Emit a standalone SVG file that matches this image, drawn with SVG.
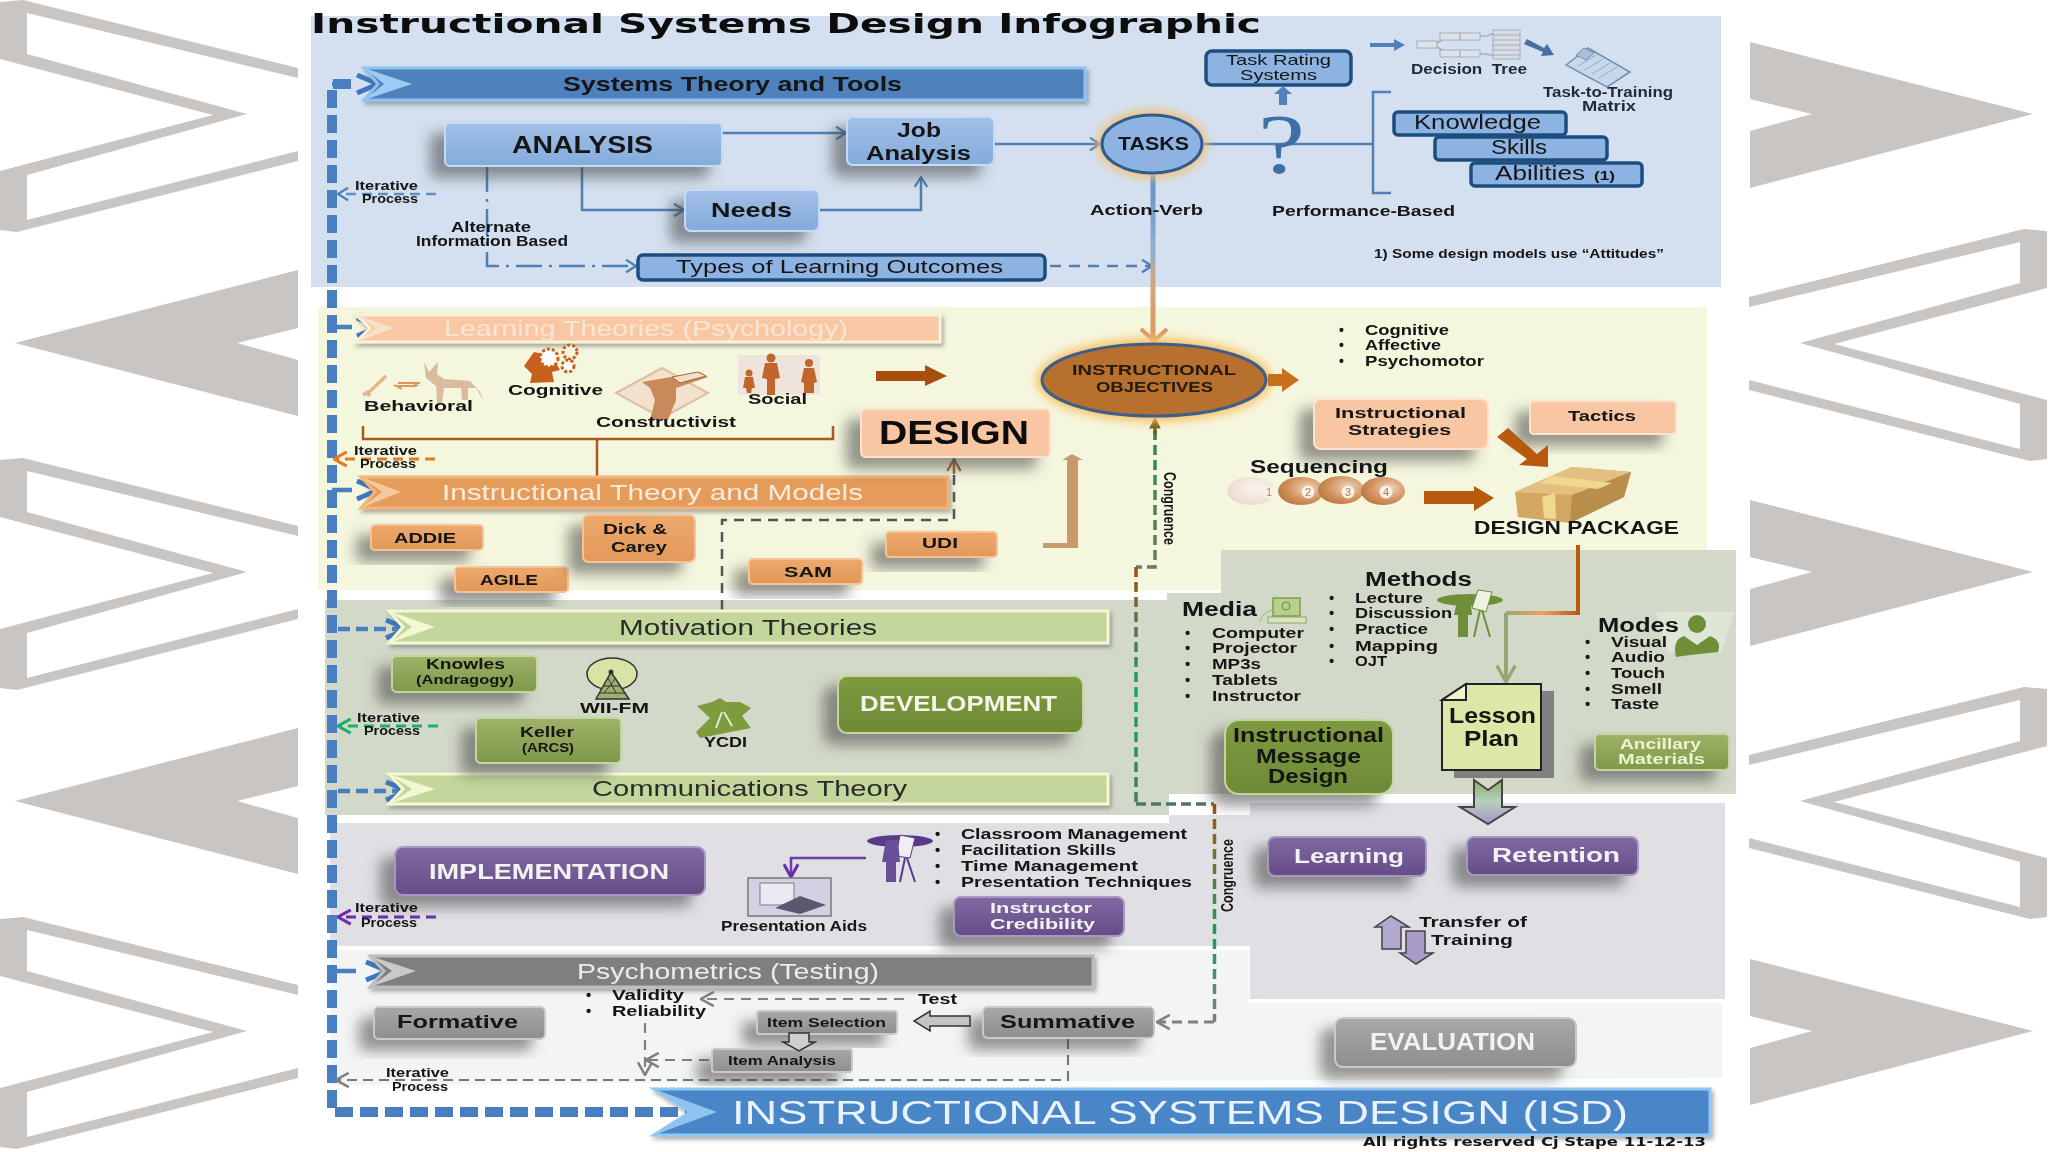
<svg xmlns="http://www.w3.org/2000/svg" width="2048" height="1152" viewBox="0 0 2048 1152">
<style>
text{font-family:"Liberation Sans","Open Sans",sans-serif;fill:#141414;font-weight:700}
.n{font-weight:400}
.s{font-weight:700}
.ws{fill:#f2f2f2}
.box{filter:url(#ds);stroke-width:2}
.bl{fill:url(#gBlue);stroke:#c3dcf5}
.ou{fill:#8db3e2;stroke:#1f4e80;stroke-width:3.5}
.pe{fill:#f9c6a3;stroke:#fde3cf}
.og{fill:url(#gOrange);stroke:#f5c397}
.lg{fill:url(#gGreen);stroke:#c3d69b}
.dg{fill:url(#gDark);stroke:#c3d69b}
.pu{fill:url(#gPurple);stroke:#a897c0}
.gy{fill:url(#gGray);stroke:#c9c9c9}
.ban{filter:url(#bs);stroke-width:3}
.deco{fill:#c8c5c3}
.c{fill:none}
.bk{stroke:#4f7fb5;stroke-width:2.5}
.mainDash{stroke:#4a7fc1;stroke-width:10;stroke-dasharray:18 7}
.sideDash{stroke:#4a7fc1;stroke-width:4.5;stroke-dasharray:12 6}
.sideSolid{stroke:#4a7fc1;stroke-width:4.5}
.chev{stroke:#3f76c0;stroke-width:5}
</style>
<defs>
<filter id="soft" x="0" y="0" width="100%" height="100%"><feGaussianBlur stdDeviation="0.55"/></filter>
<filter id="ds" x="-30%" y="-40%" width="160%" height="200%"><feDropShadow dx="-14" dy="11" stdDeviation="7" flood-color="#444" flood-opacity=".55"/></filter>
<filter id="bs" x="-5%" y="-30%" width="110%" height="170%"><feDropShadow dx="2" dy="3" stdDeviation="2" flood-color="#555" flood-opacity=".5"/></filter>
<filter id="glow" x="-30%" y="-40%" width="160%" height="180%"><feGaussianBlur stdDeviation="5"/></filter>
<linearGradient id="gBlue" x1="0" y1="0" x2="0" y2="1"><stop offset="0" stop-color="#a2bfe6"/><stop offset="1" stop-color="#84abdc"/></linearGradient>
<linearGradient id="gOrange" x1="0" y1="0" x2="0" y2="1"><stop offset="0" stop-color="#eda86c"/><stop offset="1" stop-color="#e2995a"/></linearGradient>
<linearGradient id="gGreen" x1="0" y1="0" x2="0" y2="1"><stop offset="0" stop-color="#9db268"/><stop offset="1" stop-color="#7f984a"/></linearGradient>
<linearGradient id="gDark" x1="0" y1="0" x2="0" y2="1"><stop offset="0" stop-color="#7d9a40"/><stop offset="1" stop-color="#6f8a37"/></linearGradient>
<linearGradient id="gPurple" x1="0" y1="0" x2="0" y2="1"><stop offset="0" stop-color="#806aa2"/><stop offset="1" stop-color="#664c88"/></linearGradient>
<linearGradient id="gGray" x1="0" y1="0" x2="0" y2="1"><stop offset="0" stop-color="#a8a8a8"/><stop offset="1" stop-color="#8e8e8e"/></linearGradient>
<linearGradient id="gTasks" gradientUnits="userSpaceOnUse" x1="0" y1="174" x2="0" y2="340"><stop offset="0" stop-color="#5f8fc4"/><stop offset=".45" stop-color="#8fb0d2"/><stop offset=".65" stop-color="#d3a77f"/><stop offset="1" stop-color="#d9975f"/></linearGradient>
<linearGradient id="gPack" gradientUnits="userSpaceOnUse" x1="1578" y1="0" x2="1506" y2="0"><stop offset="0" stop-color="#b85a10"/><stop offset=".5" stop-color="#f0a060"/><stop offset="1" stop-color="#9aa873"/></linearGradient>
<linearGradient id="gCong1" gradientUnits="userSpaceOnUse" x1="0" y1="418" x2="0" y2="570"><stop offset="0" stop-color="#6e5a20"/><stop offset=".2" stop-color="#2e8b57"/><stop offset="1" stop-color="#6e7a60"/></linearGradient>
<linearGradient id="gCong2" gradientUnits="userSpaceOnUse" x1="0" y1="567" x2="0" y2="804"><stop offset="0" stop-color="#a04f18"/><stop offset=".2" stop-color="#6e6e40"/><stop offset=".55" stop-color="#12a868"/><stop offset="1" stop-color="#4a7a5a"/></linearGradient>
<linearGradient id="gCong3" gradientUnits="userSpaceOnUse" x1="0" y1="804" x2="0" y2="1022"><stop offset="0" stop-color="#a04f18"/><stop offset=".2" stop-color="#7a7030"/><stop offset=".6" stop-color="#1f9a5a"/><stop offset="1" stop-color="#808080"/></linearGradient>
<linearGradient id="gDown" x1="0" y1="0" x2="0" y2="1"><stop offset="0" stop-color="#8fae6a"/><stop offset=".5" stop-color="#b5cfc0"/><stop offset="1" stop-color="#a894c4"/></linearGradient>
<radialGradient id="gBall" cx=".65" cy=".4" r=".7"><stop offset="0" stop-color="#f0d4bb"/><stop offset=".6" stop-color="#d2935f"/><stop offset="1" stop-color="#b97640"/></radialGradient>
<radialGradient id="gBallP" cx=".6" cy=".4" r=".7"><stop offset="0" stop-color="#fbf6f0"/><stop offset="1" stop-color="#e8d8c8"/></radialGradient>
<marker id="aBlue" viewBox="0 0 12 12" refX="11" refY="6" markerWidth="15" markerHeight="15" orient="auto" markerUnits="userSpaceOnUse"><path d="M3,1L11,6L3,11" fill="none" stroke="#4f7fb5" stroke-width="1.8"/></marker>
<marker id="aOrange" viewBox="0 0 12 12" refX="11" refY="6" markerWidth="17" markerHeight="17" orient="auto" markerUnits="userSpaceOnUse"><path d="M2,1L11,6L2,11" fill="none" stroke="#e07b20" stroke-width="2.2"/></marker>
<marker id="aDark" viewBox="0 0 12 12" refX="11" refY="6" markerWidth="16" markerHeight="16" orient="auto" markerUnits="userSpaceOnUse"><path d="M2,1L11,6L2,11" fill="none" stroke="#a06a30" stroke-width="1.8"/></marker>
<marker id="aGray" viewBox="0 0 12 12" refX="11" refY="6" markerWidth="17" markerHeight="17" orient="auto" markerUnits="userSpaceOnUse"><path d="M2,1L11,6L2,11" fill="none" stroke="#808080" stroke-width="1.8"/></marker>
<marker id="aGreen" viewBox="0 0 12 12" refX="11" refY="6" markerWidth="17" markerHeight="17" orient="auto" markerUnits="userSpaceOnUse"><path d="M2,1L11,6L2,11" fill="none" stroke="#1fae6a" stroke-width="2.2"/></marker>
<marker id="aPurple" viewBox="0 0 12 12" refX="11" refY="6" markerWidth="17" markerHeight="17" orient="auto" markerUnits="userSpaceOnUse"><path d="M2,1L11,6L2,11" fill="none" stroke="#6b2fa8" stroke-width="2.2"/></marker>
<marker id="aOlive" viewBox="0 0 12 12" refX="11" refY="6" markerWidth="22" markerHeight="22" orient="auto" markerUnits="userSpaceOnUse"><path d="M2,1L11,6L2,11" fill="none" stroke="#95a574" stroke-width="1.8"/></marker>
<marker id="aHead" viewBox="0 0 12 12" refX="10" refY="6" markerWidth="14" markerHeight="14" orient="auto" markerUnits="userSpaceOnUse"><path d="M1,1L11,6L1,11z" fill="#6e5a20"/></marker>
<polygon id="hollow" points="0,2 23,0 298,68 298,78 27,13 27,54 247,114 27,175 27,220 298,151 298,161 17,232 0,230 0,171 213,115 0,59"/>
<polygon id="filledL" points="15,343 298,270 298,328 237,343 298,360 298,416"/>
<polygon id="filledR" points="1750,42 2033,114 1750,188 1750,131 1812,114 1750,99"/>
</defs>
<rect width="2048" height="1152" fill="#fff"/>
<g filter="url(#soft)">
<g id="decoration" class="deco">
<use href="#hollow"/><use href="#hollow" y="458"/><use href="#hollow" y="917"/>
<use href="#filledL"/><use href="#filledL" y="458"/>
<use href="#filledR"/><use href="#filledR" y="458"/><use href="#filledR" y="917"/>
<use href="#hollow" transform="translate(2047,229) scale(-1,1)"/><use href="#hollow" transform="translate(2047,687) scale(-1,1)"/>
</g>

<g id="panels">
<rect x="311" y="16" width="1410" height="271" fill="#d4e0ef"/>
<rect x="318" y="307" width="1389" height="283" fill="#f5f6de"/>
<polygon points="325,600 1167,600 1167,593 1221,593 1221,550 1736,550 1736,794 1169,794 1169,815 325,815" fill="#d3d9c9"/>
<polygon points="330,823 1169,823 1169,815 1250,815 1250,803 1725,803 1725,999 1250,999 1250,946 330,946" fill="#e0dfe4"/>
<polygon points="330,950 1249,950 1249,1003 1722,1003 1722,1078 330,1085" fill="#f3f4f4"/>
</g>

<text id="title" x="311" y="33" font-size="26" textLength="950" lengthAdjust="spacingAndGlyphs" style="font-family:'DejaVu Sans',sans-serif;fill:#0a0a0a">Instructional Systems Design Infographic</text>

<g id="connectors" class="c">
<path class="mainDash" d="M351,84H332V1112H700"/>
<path class="sideSolid" d="M332,84H350M332,327H352M332,490H352M332,971H356"/>
<path class="sideDash" d="M338,629H400M338,791H400"/>
<polyline class="chev" points="357,75 378,84 357,93"/>
<polyline class="chev" points="357,318 378,327 357,336"/>
<polyline class="chev" points="357,481 378,490 357,499"/>
<polyline class="chev" points="386,620 407,629 386,638"/>
<polyline class="chev" points="386,782 407,791 386,800"/>
<polyline class="chev" points="366,962 388,971 366,980"/>

<path class="bk" marker-end="url(#aBlue)" d="M722,133H846"/>
<path class="bk" marker-end="url(#aBlue)" d="M582,166V210H684"/>
<path class="bk" marker-end="url(#aBlue)" d="M819,210H921V177"/>
<path class="bk" marker-end="url(#aBlue)" d="M994,144H1100"/>
<path class="bk" d="M1202,144H1373M1391,92H1373V193H1391"/>
<path stroke="#4f7fb5" stroke-width="2.5" stroke-dasharray="26 7 3 7" marker-end="url(#aBlue)" d="M487,166V266H636"/>
<path stroke="#4f7fb5" stroke-width="2.5" stroke-dasharray="11 8" marker-end="url(#aBlue)" d="M1050,266H1152"/>
<path stroke="url(#gTasks)" stroke-width="5" d="M1153,174V341"/>
<polyline points="1141,329 1154,341 1167,329" stroke="#d9975f" stroke-width="4"/>

<path stroke="#a85a20" stroke-width="2.5" d="M363,426V439H833V426M597,439V477"/>
<path stroke="#555" stroke-width="2.5" stroke-dasharray="10 7" d="M722,610V520H954V470"/>
<path stroke="#a06a30" stroke-width="2.5" marker-end="url(#aDark)" d="M954,474V459"/>

<path stroke="#5f8fc4" stroke-width="2.5" stroke-dasharray="10 6" marker-end="url(#aBlue)" d="M436,194H338"/>
<path stroke="#e07b20" stroke-width="3" stroke-dasharray="10 6" marker-end="url(#aOrange)" d="M435,459H334"/>
<path stroke="#1fae6a" stroke-width="3" stroke-dasharray="10 6" marker-end="url(#aGreen)" d="M438,726H338"/>
<path stroke="#6b2fa8" stroke-width="3" stroke-dasharray="10 6" marker-end="url(#aPurple)" d="M436,917H338"/>

<path stroke="url(#gCong1)" stroke-width="3.5" stroke-dasharray="10 5" d="M1155,430V567H1136"/>
<path stroke="#6e5a20" stroke-width="3" marker-end="url(#aHead)" d="M1155,434V418"/>
<path stroke="url(#gCong2)" stroke-width="3.5" stroke-dasharray="10 5" d="M1136,567V804"/>
<path stroke="#4a7a5a" stroke-width="3.5" stroke-dasharray="10 5" d="M1136,804H1214"/>
<path stroke="url(#gCong3)" stroke-width="3.5" stroke-dasharray="10 5" d="M1214.500,804V1022"/>
<path stroke="#808080" stroke-width="3" stroke-dasharray="10 6" marker-end="url(#aGray)" d="M1214,1022H1157"/>

<path stroke="#b85a10" stroke-width="4" d="M1578,545V613"/>
<path stroke="url(#gPack)" stroke-width="4" d="M1580,613H1506"/>
<path stroke="#95a574" stroke-width="4" marker-end="url(#aOlive)" d="M1506,613V682"/>

<path stroke="#808080" stroke-width="2.200" stroke-dasharray="10 7" marker-end="url(#aGray)" d="M904,999H701"/>
<path stroke="#808080" stroke-width="2.200" stroke-dasharray="10 7" marker-end="url(#aGray)" d="M645,1023V1075"/>
<path stroke="#808080" stroke-width="2.200" stroke-dasharray="10 7" marker-end="url(#aGray)" d="M709,1060H646"/>
<path stroke="#777" stroke-width="2.200" stroke-dasharray="10 6" marker-end="url(#aGray)" d="M1068,1039V1080H336"/>
<path stroke="#6b3fa0" stroke-width="2.500" marker-end="url(#aPurple)" d="M866,858H791V877"/>
</g>

<g id="banner-systems"><polygon class="ban" fill="#4f81bd" stroke="#8dc3f2" points="364,68 1085,68 1085,100 364,100 378,84"/><polygon fill="#9ccbf3" points="364,68 412,84 364,100 384,84"/><text x="563" y="91" font-size="21" textLength="339" lengthAdjust="spacingAndGlyphs">Systems Theory and Tools</text></g>
<g id="banner-learning"><polygon class="ban" fill="#f9c7a4" stroke="#f7f2d8" points="356,315 940,315 940,342 356,342 370,328"/><polygon fill="#f6e2c8" points="356,315 394,328 356,342 376,328"/><text class="n" x="444" y="336" font-size="22" textLength="404" lengthAdjust="spacingAndGlyphs" style="fill:#f8e6d2">Learning Theories (Psychology)</text></g>
<g id="banner-models"><polygon class="ban" fill="#e59b5a" stroke="#f0b47c" points="361,477 948,477 948,508 361,508 375,492"/><polygon fill="#f3c99e" points="361,477 401,492 361,508 382,492"/><text class="n" x="442" y="500" font-size="22" textLength="421" lengthAdjust="spacingAndGlyphs" style="fill:#f9ecdc">Instructional Theory and Models</text></g>
<g id="banner-motivation"><polygon class="ban" fill="#c3d69b" stroke="#f3f8d2" points="389,611 1108,611 1108,643 389,643 403,627"/><polygon fill="#f3f8d2" points="389,611 435,627 389,643 412,627"/><text class="n" x="619" y="635" font-size="22" textLength="258" lengthAdjust="spacingAndGlyphs" style="fill:#2a2a2a">Motivation Theories</text></g>
<g id="banner-comm"><polygon class="ban" fill="#c3d69b" stroke="#f3f8d2" points="389,774 1108,774 1108,804 389,804 403,789"/><polygon fill="#f3f8d2" points="389,774 435,789 389,804 412,789"/><text class="n" x="592" y="796" font-size="22" textLength="315" lengthAdjust="spacingAndGlyphs" style="fill:#2a2a2a">Communications Theory</text></g>
<g id="banner-psych"><polygon class="ban" fill="#7f7f7f" stroke="#bdbdbd" points="370,956 1093,956 1093,987 370,987 384,971"/><polygon fill="#c9c9c9" points="370,956 416,971 370,987 392,971"/><text class="n" x="577" y="979" font-size="22" textLength="302" lengthAdjust="spacingAndGlyphs" style="fill:#ececec">Psychometrics (Testing)</text></g>
<g id="banner-isd"><polygon class="ban" fill="#4a86c8" stroke="#8fc8f4" points="654,1089 1710,1089 1710,1135 654,1135 690,1112"/><polygon fill="#8fc4ee" points="654,1089 717,1112 654,1135 690,1112"/><text class="n" x="732" y="1124" font-size="33" textLength="896" lengthAdjust="spacingAndGlyphs" style="fill:#eaf3fb">INSTRUCTIONAL SYSTEMS DESIGN (ISD)</text></g>

<g id="analysis"><rect class="box bl" x="445" y="123" width="277" height="43" rx="5"/><text x="512" y="153" font-size="24" textLength="141" lengthAdjust="spacingAndGlyphs">ANALYSIS</text></g>
<g id="job-analysis"><rect class="box bl" x="847" y="117" width="147" height="48" rx="6"/><text x="897" y="137" font-size="20" textLength="44" lengthAdjust="spacingAndGlyphs">Job</text><text x="866" y="160" font-size="20" textLength="105" lengthAdjust="spacingAndGlyphs">Analysis</text></g>
<g id="needs"><rect class="box bl" x="685" y="190" width="134" height="41" rx="6"/><text x="711" y="217" font-size="21" textLength="81" lengthAdjust="spacingAndGlyphs">Needs</text></g>
<g id="types"><rect class="ou" x="638" y="255" width="407" height="25" rx="5"/><text class="n" x="676" y="273" font-size="19" textLength="327" lengthAdjust="spacingAndGlyphs">Types of Learning Outcomes</text></g>
<g id="task-rating"><rect class="ou" x="1206" y="51" width="145" height="34" rx="6"/><text class="n" x="1226" y="65" font-size="15" textLength="105" lengthAdjust="spacingAndGlyphs">Task Rating</text><text class="n" x="1240" y="80" font-size="15" textLength="77" lengthAdjust="spacingAndGlyphs">Systems</text></g>
<g id="tasks"><ellipse cx="1152" cy="144" rx="55" ry="34" fill="#f3bf78" filter="url(#glow)"/><ellipse cx="1152" cy="144" rx="50" ry="29" fill="#8db3e2" stroke="#2f5c8e" stroke-width="3"/><text x="1118" y="150" font-size="18" textLength="71" lengthAdjust="spacingAndGlyphs">TASKS</text></g>
<g id="question"><text x="1258" y="173" font-size="85" textLength="47" lengthAdjust="spacingAndGlyphs" style="font-family:'Liberation Serif',serif;fill:#3e6fa5;font-weight:400">?</text><polygon points="1279,105 1279,94 1274,94 1283,86 1292,94 1287,94 1287,105" fill="#4f81bd"/></g>
<g id="decision-tree"><polygon points="1370,43 1394,43 1394,39 1405,45 1394,51 1394,47 1370,47" fill="#4f81bd"/><path d="M1416,43H1437L1449,36H1486L1495,33M1437,47L1449,54H1486L1495,56" fill="none" stroke="#a5aebb" stroke-width="1.500"/><rect x="1417" y="41" width="20" height="7" fill="#dde3ea" stroke="#a5aebb"/><rect x="1440" y="33" width="20" height="7" fill="#dde3ea" stroke="#a5aebb"/><rect x="1460" y="33" width="20" height="7" fill="#dde3ea" stroke="#a5aebb"/><rect x="1440" y="50" width="20" height="7" fill="#dde3ea" stroke="#a5aebb"/><rect x="1460" y="50" width="20" height="7" fill="#dde3ea" stroke="#a5aebb"/><rect x="1493" y="30" width="27" height="29" fill="#d8dde4" stroke="#a5aebb"/><path d="M1493,35H1520M1493,40H1520M1493,45H1520M1493,50H1520M1493,55H1520" stroke="#a5aebb"/><text x="1411" y="74" font-size="14" textLength="116" lengthAdjust="spacingAndGlyphs" style="fill:#1f2a38;white-space:pre">Decision  Tree</text><polygon points="1524,44 1527,39 1544,48 1547,44 1554,55 1541,56 1543,52" fill="#44709f"/></g>
<g id="matrix"><polygon points="1566,65 1588,48 1630,72 1607,87" fill="#c8d7ea" stroke="#6f8fb3" stroke-width="1.500"/><path d="M1578,66L1596,55M1585,70L1603,59M1592,74L1610,63M1599,78L1617,67" stroke="#93acc9"/><polygon points="1576,55 1584,48 1594,53 1586,60" fill="#aac0da" stroke="#6f8fb3"/><text x="1543" y="97" font-size="14" textLength="130" lengthAdjust="spacingAndGlyphs" style="fill:#1f2a38">Task-to-Training</text><text x="1582" y="111" font-size="14" textLength="54" lengthAdjust="spacingAndGlyphs" style="fill:#1f2a38">Matrix</text></g>
<g id="knowledge"><rect class="ou" x="1394" y="112" width="172" height="23" rx="4"/><text class="n" x="1414" y="129" font-size="20" textLength="127" lengthAdjust="spacingAndGlyphs">Knowledge</text></g>
<g id="skills"><rect class="ou" x="1435" y="137" width="172" height="23" rx="4"/><text class="n" x="1491" y="154" font-size="20" textLength="56" lengthAdjust="spacingAndGlyphs">Skills</text></g>
<g id="abilities"><rect class="ou" x="1471" y="163" width="171" height="23" rx="4"/><text class="n" x="1495" y="180" font-size="20" textLength="90" lengthAdjust="spacingAndGlyphs">Abilities</text><text class="s" x="1594" y="180" font-size="13" textLength="21" lengthAdjust="spacingAndGlyphs">(1)</text></g>
<g id="top-labels">
<text x="355" y="190" class="s" font-size="12.500" textLength="63" lengthAdjust="spacingAndGlyphs">Iterative</text><text x="362" y="203" class="s" font-size="12.500" textLength="56" lengthAdjust="spacingAndGlyphs">Process</text>
<text x="451" y="232" class="s" font-size="14" textLength="80" lengthAdjust="spacingAndGlyphs">Alternate</text><text x="416" y="246" class="s" font-size="14" textLength="152" lengthAdjust="spacingAndGlyphs">Information Based</text>
<text x="1090" y="215" font-size="15" textLength="113" lengthAdjust="spacingAndGlyphs">Action-Verb</text>
<text x="1272" y="216" font-size="15" textLength="183" lengthAdjust="spacingAndGlyphs">Performance-Based</text>
<text x="1374" y="258" font-size="13.500" textLength="290" lengthAdjust="spacingAndGlyphs">1) Some design models use “Attitudes”</text>
</g>

<g id="behavioral"><path d="M366,395L386,376M368,392L363,395M370,396L366,391" stroke="#e3b690" stroke-width="3.500" fill="none"/><path d="M396,386H416M412,382L418,386M420,383H398M402,389L394,385" stroke="#e0955a" stroke-width="1.800" fill="none"/><path d="M424,362L429,372L438,362L437,374L444,379L470,381L480,392L483,400L476,388L468,388L468,400L462,400L461,388L444,388L442,403L437,403L436,386L426,378Z" fill="#d9bb9e"/><text x="364" y="411" font-size="15" textLength="109" lengthAdjust="spacingAndGlyphs">Behavioral</text></g>
<g id="cognitive"><path d="M534,352L552,356L560,370L552,372L554,382L530,383L532,374L524,366Z" fill="#c8601c"/><circle cx="549" cy="358" r="9" fill="#fff" stroke="#c8601c" stroke-width="3" stroke-dasharray="3 2"/><circle cx="570" cy="352" r="7" fill="#f5f6de" stroke="#c8601c" stroke-width="3" stroke-dasharray="3 2"/><circle cx="568" cy="366" r="6" fill="#fff" stroke="#c8601c" stroke-width="3" stroke-dasharray="3 2"/><text x="508" y="395" font-size="15" textLength="95" lengthAdjust="spacingAndGlyphs">Cognitive</text></g>
<g id="constructivist"><polygon points="616,393 662,368 708,393 662,418" fill="#f3e1cd" stroke="#dcc0a4" stroke-width="2"/><path d="M642,382L700,372L708,377L676,388L676,400L668,420L650,420L655,400L650,388Z" fill="#c88a5a"/><path d="M672,377L698,372L706,376L680,383Z" fill="#f0e0cc" stroke="#a86a3a"/><text x="596" y="427" font-size="15" textLength="140" lengthAdjust="spacingAndGlyphs">Constructivist</text></g>
<g id="social"><rect x="738" y="355" width="82" height="40" fill="#efe4dc"/><g fill="#c0662a"><circle cx="749" cy="373" r="3.500"/><path d="M745,377H753L755,388H752L751,393H747L746,388H743Z"/><circle cx="771" cy="358" r="4.500"/><path d="M765,363H777L780,378L775,379L775,395H767L767,379L762,378Z"/><circle cx="809" cy="363" r="4"/><path d="M804,368H814L817,382L814,383V393H804V383L801,382Z"/></g><text x="748" y="404" font-size="15" textLength="59" lengthAdjust="spacingAndGlyphs">Social</text></g>
<g id="design-arrows"><polygon points="876,371 925,371 925,365 947,376 925,386 925,381 876,381" fill="#a8500f"/><polygon points="1043,543 1067,543 1067,460 1062,460 1072,454 1083,460 1078,460 1078,548 1043,548" fill="#c99b6c"/></g>
<g id="design"><rect class="box pe" x="861" y="409" width="189" height="48" rx="5"/><text x="879" y="444" font-size="33" textLength="150" lengthAdjust="spacingAndGlyphs" style="fill:#0a0a0a">DESIGN</text></g>
<g id="objectives"><ellipse cx="1154" cy="380" rx="118" ry="42" fill="#f7c36b" filter="url(#glow)"/><ellipse cx="1154" cy="380" rx="112" ry="36" fill="#b8702f" stroke="#3e5f8a" stroke-width="3"/><text x="1072" y="375" font-size="15.500" textLength="164" lengthAdjust="spacingAndGlyphs" style="fill:#221a10">INSTRUCTIONAL</text><text x="1096" y="392" font-size="15.500" textLength="117" lengthAdjust="spacingAndGlyphs" style="fill:#221a10">OBJECTIVES</text><polygon points="1268,374 1282,374 1282,368 1299,380 1282,392 1282,386 1268,386" fill="#c9701f"/></g>
<g id="domains"><text x="1339" y="335" font-size="14" class="s">•</text><text x="1339" y="350" font-size="14" class="s">•</text><text x="1339" y="366" font-size="14" class="s">•</text><text x="1365" y="335" font-size="15" class="s" textLength="84" lengthAdjust="spacingAndGlyphs">Cognitive</text><text x="1365" y="350" font-size="15" class="s" textLength="76" lengthAdjust="spacingAndGlyphs">Affective</text><text x="1365" y="366" font-size="15" class="s" textLength="119" lengthAdjust="spacingAndGlyphs">Psychomotor</text></g>
<g id="strategies"><rect class="box pe" x="1314" y="399" width="174" height="50" rx="7"/><text x="1335" y="418" font-size="15" textLength="131" lengthAdjust="spacingAndGlyphs">Instructional</text><text x="1348" y="435" font-size="15" textLength="103" lengthAdjust="spacingAndGlyphs">Strategies</text></g>
<g id="tactics"><rect class="box pe" x="1530" y="401" width="146" height="33" rx="4"/><text x="1568" y="421" font-size="15" textLength="68" lengthAdjust="spacingAndGlyphs">Tactics</text></g>
<polygon id="strategy-arrow" points="1497,437 1508,428 1537,454 1548,445 1548,467 1519,465 1527,459" fill="#b85a10"/>
<g id="sequencing"><text x="1250" y="473" font-size="19" textLength="138" lengthAdjust="spacingAndGlyphs">Sequencing</text><ellipse cx="1251" cy="491" rx="24" ry="14" fill="url(#gBallP)"/><ellipse cx="1301" cy="491" rx="23" ry="14" fill="url(#gBall)"/><ellipse cx="1341" cy="490" rx="23" ry="14" fill="url(#gBall)"/><ellipse cx="1383" cy="491" rx="22" ry="14" fill="url(#gBall)"/><g fill="#f8f1e8"><circle cx="1269" cy="492" r="6.500"/><circle cx="1308" cy="492" r="6.500"/><circle cx="1348" cy="492" r="6.500"/><circle cx="1386" cy="492" r="6.500"/></g><g font-size="11"><text x="1266" y="496" class="n" style="fill:#b08a68">1</text><text x="1305" y="496" class="n" style="fill:#b47a4a">2</text><text x="1345" y="496" class="n" style="fill:#b47a4a">3</text><text x="1383" y="496" class="n" style="fill:#b47a4a">4</text></g><polygon points="1424,491 1474,491 1474,486 1494,498 1474,511 1474,504 1424,504" fill="#b85a10"/></g>
<g id="design-package"><polygon points="1515,492 1572,467 1631,472 1624,497 1570,523 1518,517" fill="#d2a862"/><polygon points="1515,492 1572,467 1631,472 1572,495" fill="#e3c07f"/><polygon points="1572,495 1631,472 1624,497 1570,523" fill="#b98e4c"/><polygon points="1540,483 1552,476 1612,483 1598,489" fill="#efd98e"/><polygon points="1542,497 1555,493 1556,519 1544,518" fill="#efd98e"/><text x="1474" y="534" font-size="18" textLength="205" lengthAdjust="spacingAndGlyphs">DESIGN PACKAGE</text></g>

<g id="addie"><rect class="box og" x="371" y="525" width="112" height="25" rx="4"/><text x="394" y="543" font-size="15" textLength="62" lengthAdjust="spacingAndGlyphs">ADDIE</text></g>
<g id="agile"><rect class="box og" x="455" y="567" width="113" height="25" rx="4"/><text x="480" y="585" font-size="15" textLength="58" lengthAdjust="spacingAndGlyphs">AGILE</text></g>
<g id="dick-carey"><rect class="box og" x="583" y="515" width="112" height="47" rx="6"/><text x="603" y="534" font-size="15" textLength="64" lengthAdjust="spacingAndGlyphs">Dick &amp;</text><text x="611" y="552" font-size="15" textLength="56" lengthAdjust="spacingAndGlyphs">Carey</text></g>
<g id="sam"><rect class="box og" x="749" y="559" width="113" height="25" rx="4"/><text x="784" y="577" font-size="15" textLength="48" lengthAdjust="spacingAndGlyphs">SAM</text></g>
<g id="udi"><rect class="box og" x="886" y="532" width="111" height="25" rx="4"/><text x="922" y="548" font-size="15" textLength="36" lengthAdjust="spacingAndGlyphs">UDI</text></g>
<g id="orange-iterative"><text x="354" y="455" class="s" font-size="12.500" textLength="63" lengthAdjust="spacingAndGlyphs">Iterative</text><text x="360" y="468" class="s" font-size="12.500" textLength="56" lengthAdjust="spacingAndGlyphs">Process</text></g>
<text transform="translate(1164,472) rotate(90)" font-size="16" textLength="73" lengthAdjust="spacingAndGlyphs" id="congruence-a">Congruence</text>

<g id="knowles"><rect class="box lg" x="392" y="656" width="145" height="36" rx="5"/><text x="426" y="669" font-size="14" textLength="79" lengthAdjust="spacingAndGlyphs">Knowles</text><text x="416" y="684" font-size="13" textLength="98" lengthAdjust="spacingAndGlyphs">(Andragogy)</text></g>
<g id="keller"><rect class="box lg" x="476" y="718" width="145" height="45" rx="5"/><text x="520" y="737" font-size="14" textLength="54" lengthAdjust="spacingAndGlyphs">Keller</text><text x="522" y="752" font-size="13" textLength="52" lengthAdjust="spacingAndGlyphs">(ARCS)</text></g>
<g id="wiifm"><ellipse cx="612" cy="674" rx="25" ry="16" fill="#d7e4a5" stroke="#333" stroke-width="1.500"/><polygon points="611,672 596,699 629,699" fill="#9cb070" stroke="#333" stroke-width="1.500"/><path d="M604,686H620M600,693H625M608,678L616,693M616,678L604,693" stroke="#333" fill="none"/><circle cx="611" cy="672" r="2.500" fill="#333"/><text x="580" y="713" font-size="15" textLength="69" lengthAdjust="spacingAndGlyphs">WII-FM</text></g>
<g id="ycdi"><path d="M697,706L712,702L720,698L726,702L740,702L751,708L742,716L751,728L700,738L696,732L710,718Z" fill="#7f9c3c"/><path d="M722,712L716,728M724,712L732,726" stroke="#e3e7d7" stroke-width="2"/><text x="704" y="747" font-size="15" textLength="43" lengthAdjust="spacingAndGlyphs">YCDI</text></g>
<g id="development"><rect class="box dg" x="838" y="676" width="245" height="57" rx="9"/><text x="860" y="711" font-size="22" textLength="197" lengthAdjust="spacingAndGlyphs" style="fill:#f3f5e6">DEVELOPMENT</text></g>
<g id="green-iterative"><text x="357" y="722" class="s" font-size="12.500" textLength="63" lengthAdjust="spacingAndGlyphs">Iterative</text><text x="364" y="735" class="s" font-size="12.500" textLength="56" lengthAdjust="spacingAndGlyphs">Process</text></g>
<g id="media"><text x="1182" y="616" font-size="20" textLength="75" lengthAdjust="spacingAndGlyphs">Media</text><rect x="1273" y="598" width="27" height="18" fill="#b9cf8c" stroke="#7f9c4c" stroke-width="1.500"/><rect x="1268" y="617" width="38" height="6" fill="#dbe5c4" stroke="#8fa85f"/><circle cx="1286" cy="606" r="4" fill="none" stroke="#6e8a3c"/><path d="M1273,610Q1262,612 1260,622" fill="none" stroke="#9fb47a"/><g class="s" font-size="15"><text x="1185" y="638">•</text><text x="1185" y="653">•</text><text x="1185" y="669">•</text><text x="1185" y="685">•</text><text x="1185" y="701">•</text><text x="1212" y="638" textLength="92" lengthAdjust="spacingAndGlyphs">Computer</text><text x="1212" y="653" textLength="85" lengthAdjust="spacingAndGlyphs">Projector</text><text x="1212" y="669" textLength="49" lengthAdjust="spacingAndGlyphs">MP3s</text><text x="1212" y="685" textLength="66" lengthAdjust="spacingAndGlyphs">Tablets</text><text x="1212" y="701" textLength="89" lengthAdjust="spacingAndGlyphs">Instructor</text></g></g>
<g id="methods"><text x="1365" y="586" font-size="20" textLength="107" lengthAdjust="spacingAndGlyphs">Methods</text><ellipse cx="1470" cy="600" rx="33" ry="6" fill="#6e8f38"/><polygon points="1478,590 1492,592 1486,612 1472,608" fill="#eef2e0" stroke="#6e8f38"/><path d="M1458,596H1470L1472,615H1468V637H1458V615H1454Z" fill="#6e8f38"/><path d="M1480,610L1474,637M1482,610L1490,637" stroke="#6e8f38" stroke-width="2"/><g class="s" font-size="15"><text x="1329" y="603">•</text><text x="1329" y="618">•</text><text x="1329" y="634">•</text><text x="1329" y="651">•</text><text x="1329" y="666">•</text><text x="1355" y="603" textLength="68" lengthAdjust="spacingAndGlyphs">Lecture</text><text x="1355" y="618" textLength="97" lengthAdjust="spacingAndGlyphs">Discussion</text><text x="1355" y="634" textLength="73" lengthAdjust="spacingAndGlyphs">Practice</text><text x="1355" y="651" textLength="83" lengthAdjust="spacingAndGlyphs">Mapping</text><text x="1355" y="666" textLength="32" lengthAdjust="spacingAndGlyphs">OJT</text></g></g>
<g id="modes"><polygon points="1656,612 1734,612 1722,652 1668,652" fill="#e0e6d6"/><circle cx="1697" cy="624" r="9" fill="#6e8f38"/><path d="M1676,657Q1672,640 1684,636L1697,645L1710,636Q1722,640 1718,652L1690,655Z" fill="#6e8f38"/><text x="1598" y="632" font-size="20" textLength="81" lengthAdjust="spacingAndGlyphs">Modes</text><g class="s" font-size="15"><text x="1585" y="647">•</text><text x="1585" y="662">•</text><text x="1585" y="678">•</text><text x="1585" y="694">•</text><text x="1585" y="709">•</text><text x="1611" y="647" textLength="56" lengthAdjust="spacingAndGlyphs">Visual</text><text x="1611" y="662" textLength="54" lengthAdjust="spacingAndGlyphs">Audio</text><text x="1611" y="678" textLength="54" lengthAdjust="spacingAndGlyphs">Touch</text><text x="1611" y="694" textLength="51" lengthAdjust="spacingAndGlyphs">Smell</text><text x="1611" y="709" textLength="48" lengthAdjust="spacingAndGlyphs">Taste</text></g></g>
<g id="message-design"><rect class="box dg" x="1225" y="720" width="168" height="74" rx="14"/><text x="1233" y="742" font-size="20" textLength="151" lengthAdjust="spacingAndGlyphs">Instructional</text><text x="1256" y="763" font-size="20" textLength="105" lengthAdjust="spacingAndGlyphs">Message</text><text x="1268" y="783" font-size="20" textLength="80" lengthAdjust="spacingAndGlyphs">Design</text></g>
<g id="lesson-plan"><rect x="1454" y="691" width="100" height="87" fill="#808080"/><polygon points="1466,684 1541,684 1541,770 1442,770 1442,700" fill="#dbe8a8" stroke="#222" stroke-width="2"/><polygon points="1466,684 1466,700 1442,700" fill="#eef4cf" stroke="#222" stroke-width="2"/><text x="1449" y="723" font-size="22" textLength="87" lengthAdjust="spacingAndGlyphs">Lesson</text><text x="1464" y="746" font-size="22" textLength="55" lengthAdjust="spacingAndGlyphs">Plan</text></g>
<g id="ancillary"><rect class="box lg" x="1595" y="734" width="134" height="36" rx="5"/><text x="1620" y="749" font-size="14" textLength="81" lengthAdjust="spacingAndGlyphs" style="fill:#eef3d0">Ancillary</text><text x="1618" y="764" font-size="14" textLength="87" lengthAdjust="spacingAndGlyphs" style="fill:#eef3d0">Materials</text></g>
<polygon id="lesson-arrow" points="1474,780 1488,790 1502,780 1502,807 1515,807 1488,824 1460,807 1474,807" fill="url(#gDown)" stroke="#444" stroke-width="2"/>

<g id="implementation"><rect class="box pu" x="395" y="847" width="310" height="48" rx="8"/><text x="429" y="879" font-size="22" textLength="240" lengthAdjust="spacingAndGlyphs" class="ws">IMPLEMENTATION</text></g>
<g id="purple-iterative"><text x="355" y="912" class="s" font-size="12.500" textLength="63" lengthAdjust="spacingAndGlyphs">Iterative</text><text x="361" y="927" class="s" font-size="12.500" textLength="56" lengthAdjust="spacingAndGlyphs">Process</text></g>
<g id="presentation-aids"><ellipse cx="900" cy="841" rx="33" ry="6" fill="#5a3a8a"/><polygon points="900,835 915,838 910,858 896,856" fill="#f0edf5" stroke="#5a3a8a"/><path d="M886,840H898L900,862H896V882H886V862H882Z" fill="#6b4f99"/><path d="M905,858L900,882M907,858L915,882" stroke="#5a3a8a" stroke-width="2"/><rect x="748" y="878" width="83" height="38" fill="#d5cfe3" stroke="#777" stroke-width="1.500"/><rect x="760" y="883" width="34" height="22" fill="#ece9f2" stroke="#7a7a8a"/><polygon points="775,908 800,896 826,905 800,914" fill="#5d5670"/><text x="721" y="931" font-size="14" textLength="146" lengthAdjust="spacingAndGlyphs">Presentation Aids</text></g>
<g id="skills-list" font-size="15"><text x="935" y="839">•</text><text x="935" y="855">•</text><text x="935" y="871">•</text><text x="935" y="887">•</text><text x="961" y="839" textLength="226" lengthAdjust="spacingAndGlyphs" class="s">Classroom Management</text><text x="961" y="855" textLength="155" lengthAdjust="spacingAndGlyphs" class="s">Facilitation Skills</text><text x="961" y="871" textLength="177" lengthAdjust="spacingAndGlyphs" class="s">Time Management</text><text x="961" y="887" textLength="231" lengthAdjust="spacingAndGlyphs" class="s">Presentation Techniques</text></g>
<g id="credibility"><rect class="box pu" x="954" y="897" width="170" height="39" rx="7"/><text x="990" y="913" font-size="15" textLength="102" lengthAdjust="spacingAndGlyphs" class="ws">Instructor</text><text x="990" y="929" font-size="15" textLength="105" lengthAdjust="spacingAndGlyphs" class="ws">Credibility</text></g>
<text transform="translate(1233,912) rotate(-90)" font-size="16" textLength="73" lengthAdjust="spacingAndGlyphs" id="congruence-b">Congruence</text>
<g id="learning"><rect class="box pu" x="1268" y="837" width="158" height="39" rx="7"/><text x="1294" y="863" font-size="20" textLength="110" lengthAdjust="spacingAndGlyphs" class="ws">Learning</text></g>
<g id="retention"><rect class="box pu" x="1467" y="837" width="171" height="38" rx="7"/><text x="1492" y="862" font-size="20" textLength="128" lengthAdjust="spacingAndGlyphs" class="ws">Retention</text></g>
<g id="transfer"><polygon points="1391,916 1409,927 1401,927 1401,949 1382,949 1382,927 1375,927" fill="#b4a7d0" stroke="#444" stroke-width="1.500"/><polygon points="1406,931 1425,931 1425,953 1433,953 1416,964 1400,953 1406,953" fill="#a99bc8" stroke="#444" stroke-width="1.500"/><text x="1419" y="927" font-size="15.500" textLength="108" lengthAdjust="spacingAndGlyphs">Transfer of</text><text x="1431" y="945" font-size="15.500" textLength="82" lengthAdjust="spacingAndGlyphs">Training</text></g>

<g id="formative"><rect class="box gy" x="374" y="1007" width="171" height="32" rx="5"/><text x="397" y="1028" font-size="19" textLength="121" lengthAdjust="spacingAndGlyphs">Formative</text></g>
<g id="summative"><rect class="box gy" x="983" y="1007" width="171" height="31" rx="5"/><text x="1000" y="1028" font-size="19" textLength="135" lengthAdjust="spacingAndGlyphs">Summative</text></g>
<g id="item-selection"><rect class="box gy" x="757" y="1011" width="140" height="23" rx="3"/><text x="767" y="1027" font-size="13.500" textLength="119" lengthAdjust="spacingAndGlyphs">Item Selection</text></g>
<g id="item-analysis"><rect class="box gy" x="712" y="1049" width="140" height="23" rx="3"/><text x="728" y="1065" font-size="13.500" textLength="108" lengthAdjust="spacingAndGlyphs">Item Analysis</text></g>
<polygon id="sel-arrow" points="970,1016 970,1026 930,1026 930,1031 914,1021 930,1011 930,1016" fill="#c4c4c4" stroke="#333" stroke-width="1.500"/>
<polygon id="analysis-arrow" points="789,1033 809,1033 809,1042 815,1042 799,1051 783,1042 789,1042" fill="#cfcfcf" stroke="#333" stroke-width="1.500"/>
<g id="validity" font-size="15"><text x="586" y="1000">•</text><text x="586" y="1016">•</text><text x="612" y="1000" textLength="72" lengthAdjust="spacingAndGlyphs" class="s">Validity</text><text x="612" y="1016" textLength="94" lengthAdjust="spacingAndGlyphs" class="s">Reliability</text><text x="918" y="1004" font-size="14" textLength="39" lengthAdjust="spacingAndGlyphs" class="s">Test</text></g>
<g id="gray-iterative"><text x="386" y="1077" class="s" font-size="12.500" textLength="63" lengthAdjust="spacingAndGlyphs">Iterative</text><text x="392" y="1091" class="s" font-size="12.500" textLength="56" lengthAdjust="spacingAndGlyphs">Process</text></g>
<g id="evaluation"><rect class="box gy" x="1335" y="1018" width="241" height="49" rx="8"/><text x="1370" y="1050" font-size="23" textLength="165" lengthAdjust="spacingAndGlyphs" style="fill:#f2f2f2">EVALUATION</text></g>
<text id="rights" x="1363" y="1146" font-size="13" textLength="343" lengthAdjust="spacingAndGlyphs" style="font-family:'DejaVu Sans',sans-serif">All rights reserved Cj Stape 11-12-13</text>
</g>
</svg>
